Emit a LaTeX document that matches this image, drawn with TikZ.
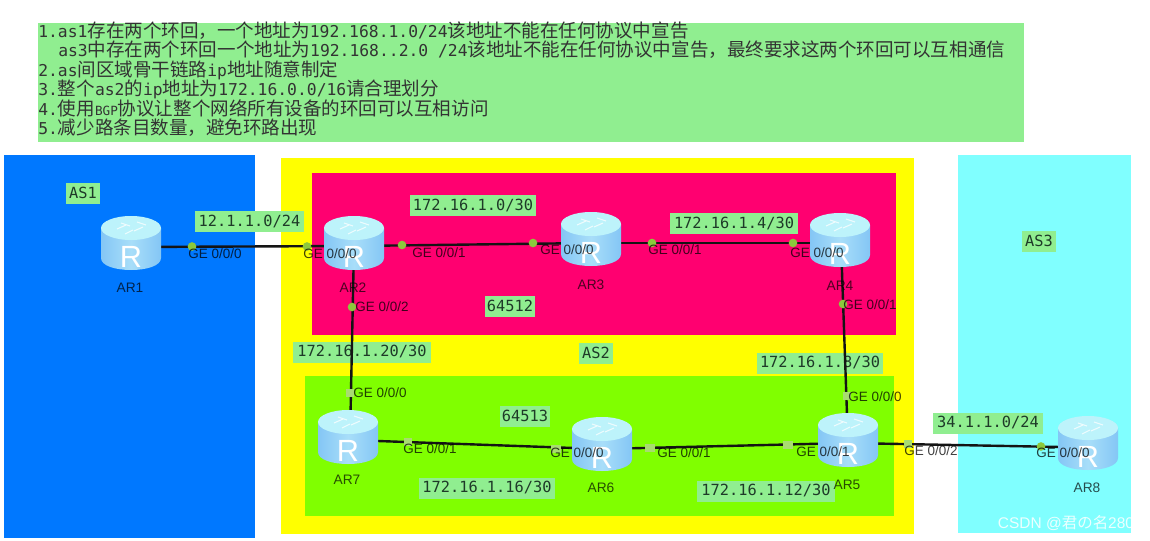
\documentclass[tikz,border=0pt]{standalone}
\usepackage{fontspec}
\setmainfont{Liberation Sans}
\newfontfamily\zhfont{Noto Sans CJK SC}
\newfontfamily\codefont{DejaVu Sans Mono}
\newcommand{\zh}[1]{{\zhfont\fontsize{13.9pt}{14.55pt}\selectfont #1}}
\definecolor{boxgreen}{HTML}{90EE90}
\definecolor{asblue}{HTML}{0078FF}
\definecolor{asyellow}{HTML}{FFFF00}
\definecolor{asmagenta}{HTML}{FF0070}
\definecolor{aslime}{HTML}{80FF00}
\definecolor{ascyan}{HTML}{80FFFF}
\definecolor{portdot}{HTML}{8CC83C}
\definecolor{paledot}{HTML}{A8DC70}
\definecolor{inktext}{HTML}{1E3A28}
\definecolor{rtop}{HTML}{BDF3FB}
\definecolor{rside}{HTML}{84C6F5}
\definecolor{rmid}{HTML}{A8DEF9}
\tikzset{
  x=0.75pt,y=-0.75pt,
  tag/.style={fill=boxgreen,text=inktext,inner sep=0pt,minimum height=15.75pt,font=\codefont\fontsize{11.5pt}{13pt}\selectfont},
  port/.style={text=black,text opacity=.75,inner sep=0pt,font=\fontsize{10.1pt}{11pt}\selectfont},
  rname/.style={text=black,text opacity=.7,inner sep=0pt,font=\fontsize{10.3pt}{12pt}\selectfont},
  dot/.style={circle,fill=portdot,draw=none,minimum size=6.5pt,inner sep=0pt},
  pdot/.style={rectangle,fill=paledot,draw=none,minimum size=6pt,inner sep=0pt},
  link/.style={draw=black!92,line width=1.8pt},
  hub/.style={inner sep=0pt,minimum size=0pt},
}
% router artwork: #1 = x, #2 = y of its centre
\newcommand{\routerart}[2]{%
  \begin{scope}[shift={(#1,#2)}]
    \path[left color=rside,right color=rside,middle color=rmid]
      (-30,-15) -- (-30,15) .. controls (-30,31) and (30,31) .. (30,15) -- (30,-15) -- cycle;
    \path[fill=rtop] (0,-15) ellipse[x radius=30,y radius=12];
    \foreach \a/\b/\c/\d in {-14/-14/-5/-18,-10/-20/-1/-17,3/-12/12/-16,6/-21/15/-18,-6/-9/2/-13}
      \draw[white,line width=.8pt,opacity=.75] (\a,\b) -- (\c,\d);
    \node[text=white,inner sep=0pt,font=\fontsize{23pt}{24pt}\selectfont] at (0,14) {R};
  \end{scope}}
\begin{document}
\begin{tikzpicture}
\useasboundingbox (0,0) rectangle (1150,540);
\fill[white] (0,0) rectangle (1150,540);
% regions
\fill[asblue] (4,155) rectangle (255,538);
\fill[asyellow] (281,158) rectangle (914,534);
\fill[asmagenta] (312,173) rectangle (896,335);
\fill[aslime] (305,376) rectangle (894,516);
\fill[ascyan] (958,155) rectangle (1131,533);
% task text
\node[fill=boxgreen,anchor=north west,inner sep=0pt,minimum width=739.5pt,minimum height=89.25pt] (task) at (38,23) {};
\node[anchor=north west,inner sep=0pt,text=black!80,align=left,font=\codefont\fontsize{12.26pt}{14.55pt}\selectfont] (tasktext) at (38,21.5) {%
1.as1\zh{存在两个环回，一个地址为}192.168.1.0/24\zh{该地址不能在任何协议中宣告}\\
\hspace*{15pt}as3\zh{中存在两个环回一个地址为}192.168..2.0 /24\zh{该地址不能在任何协议中宣告，最终要求这两个环回可以互相通信}\\
2.as\zh{间区域骨干链路}ip\zh{地址随意制定}\\
3.\zh{整个}as2\zh{的}ip\zh{地址为}172.16.0.0/16\zh{请合理划分}\\
4.\zh{使用}{\fontsize{9.5pt}{10pt}\selectfont BGP}\zh{协议让整个网络所有设备的环回可以互相访问}\\
5.\zh{减少路条目数量，避免环路出现}};
% tags
\node[tag,minimum width=25.5pt] (as1) at (83,193) {AS1};
\node[tag,minimum width=25pt] (as2) at (596,353) {AS2};
\node[tag,minimum width=25.5pt] (as3) at (1039,241) {AS3};
\node[tag,minimum width=38pt] (n512) at (510,306) {64512};
\node[tag,minimum width=38pt] (n513) at (525,416) {64513};
\node[tag,minimum width=82pt] (t1) at (249.5,221.5) {12.1.1.0/24};
\node[tag,minimum width=95pt] (t2) at (473,205.5) {172.16.1.0/30};
\node[tag,minimum width=96pt] (t3) at (734,223.5) {172.16.1.4/30};
\node[tag,minimum width=103pt] (t4) at (362,352) {172.16.1.20/30};
\node[tag,minimum width=95pt] (t5) at (820,363) {172.16.1.8/30};
\node[tag,minimum width=102pt] (t6) at (487,488) {172.16.1.16/30};
\node[tag,minimum width=103pt] (t7) at (766,491) {172.16.1.12/30};
\node[tag,minimum width=83pt] (t8) at (988,423) {34.1.1.0/24};
% hubs
\node[hub] (r1) at (131,247) {};
\node[hub] (r2) at (354,246) {};
\node[hub] (r3) at (591,243) {};
\node[hub] (r4) at (841,243) {};
\node[hub] (r5) at (848,443) {};
\node[hub] (r6) at (602,449) {};
\node[hub] (r7) at (350,440) {};
\node[hub] (r8) at (1087,447.5) {};
% links
\draw[link] (r1) -- (r2);
\draw[link] (r2) -- (r3);
\draw[link] (r3) -- (r4);
\draw[link] (r2) -- (r7);
\draw[link] (r4) -- (r5);
\draw[link] (r7) -- (r6);
\draw[link] (r6) -- (r5);
\draw[link] (r5) -- (r8);
% routers
\routerart{131}{243}
\routerart{354}{243}
\routerart{591}{239}
\routerart{840}{240}
\routerart{848}{440}
\routerart{602}{444}
\routerart{348}{437}
\routerart{1088}{443}
% dots
\node[dot] (d1) at (192,246.5) {};
\node[dot] (d2) at (307,246.5) {};
\node[dot] (d3) at (402,245) {};
\node[dot] (d4) at (533,243) {};
\node[dot] (d5) at (652,243) {};
\node[dot] (d6) at (793,243) {};
\node[dot] (d7) at (352,307) {};
\node[dot] (d8) at (843,304) {};
\node[dot] (d16) at (1041,446.5) {};
\node[pdot] (d9) at (350,393) {};
\node[pdot] (d10) at (847,396) {};
\node[pdot] (d11) at (408,442) {};
\node[pdot,minimum width=8pt] (d12) at (556,449) {};
\node[pdot,minimum width=8pt] (d13) at (650,448) {};
\node[pdot,minimum width=8pt] (d14) at (788,444.5) {};
\node[pdot] (d15) at (908,443.5) {};
% port labels
\node[port] (p1) at (215,254) {GE 0/0/0};
\node[port] (p2) at (330,254) {GE 0/0/0};
\node[port] (p3) at (439,253) {GE 0/0/1};
\node[port] (p4) at (567,250) {GE 0/0/0};
\node[port] (p5) at (675,250) {GE 0/0/1};
\node[port] (p6) at (817,253) {GE 0/0/0};
\node[port] (p7) at (870,305) {GE 0/0/1};
\node[port] (p8) at (382,307) {GE 0/0/2};
\node[port] (p9) at (380,393) {GE 0/0/0};
\node[port] (p10) at (430,449) {GE 0/0/1};
\node[port] (p11) at (577,453) {GE 0/0/0};
\node[port] (p12) at (684,453) {GE 0/0/1};
\node[port] (p13) at (823,452) {GE 0/0/1};
\node[port] (p14) at (875,397) {GE 0/0/0};
\node[port] (p15) at (931,451) {GE 0/0/2};
\node[port] (p16) at (1063,453) {GE 0/0/0};
% router names
\node[rname] (a1) at (130,288) {AR1};
\node[rname] (a2) at (353,288) {AR2};
\node[rname] (a3) at (591,285) {AR3};
\node[rname] (a4) at (840,286) {AR4};
\node[rname] (a5) at (847,485) {AR5};
\node[rname] (a6) at (601,488) {AR6};
\node[rname] (a7) at (347,480) {AR7};
\node[rname] (a8) at (1087,488) {AR8};
% watermark
\node[text=white,text opacity=.85,inner sep=0pt,font=\fontsize{11.6pt}{13pt}\selectfont] (wm) at (1066,523) {CSDN @{\zhfont 君の名}280};
\end{tikzpicture}
\end{document}
